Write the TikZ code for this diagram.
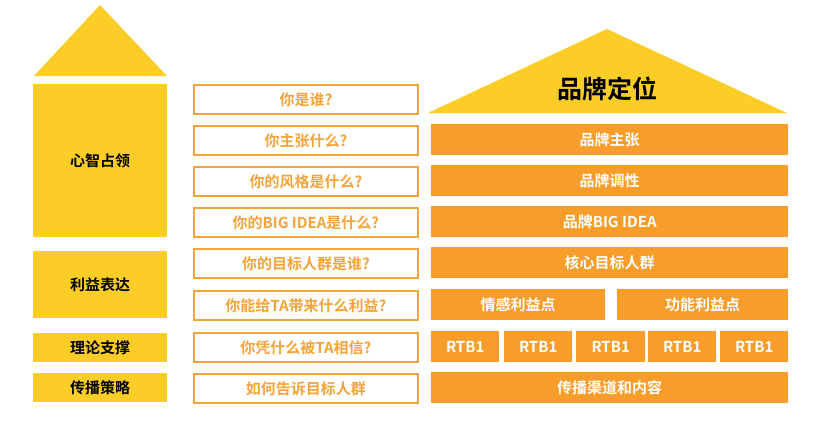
\documentclass[tikz,border=0pt]{standalone}
\usepackage{fontspec}
\setmainfont{Noto Sans CJK SC}[BoldFont={Noto Sans CJK SC Bold}]
\definecolor{hyellow}{HTML}{FCCD26}
\definecolor{horange}{HTML}{F99D2A}
\definecolor{hline}{HTML}{F5A33B}
\tikzset{
  leftbox/.style={fill=hyellow, draw=none, anchor=north west, inner sep=0pt, font=\bfseries\fontsize{15}{15}\selectfont, text=black},
  qbox/.style={draw=hline, line width=1.8pt, fill=white, anchor=north west, inner sep=0pt, font=\bfseries\fontsize{15}{15}\selectfont, text=hline},
  abox/.style={fill=horange, draw=none, anchor=north west, inner sep=0pt, font=\bfseries\fontsize{15}{15}\selectfont, text=white},
}
\begin{document}
\begin{tikzpicture}[x=1pt,y=-1pt]
\useasboundingbox (0,0) rectangle (828,424);
\fill[white] (0,0) rectangle (828,424);
% left roof
\fill[hyellow] (34,76) -- (100,5) -- (167,76) -- cycle;
\node[leftbox, minimum width=134pt, minimum height=153pt] (l1) at (33,84) {心智占领};
\node[leftbox, minimum width=134pt, minimum height=67pt] (l2) at (33,251) {利益表达};
\node[leftbox, minimum width=134pt, minimum height=29pt] (l3) at (33,333) {理论支撑};
\node[leftbox, minimum width=134pt, minimum height=29pt] (l4) at (33,373) {传播策略};
% middle questions
\node[qbox, minimum width=224pt, minimum height=29pt] (q1) at (193,84) {你是谁?};
\node[qbox, minimum width=224pt, minimum height=29pt] (q2) at (193,125) {你主张什么?};
\node[qbox, minimum width=224pt, minimum height=29pt] (q3) at (193,166) {你的风格是什么?};
\node[qbox, minimum width=224pt, minimum height=29pt] (q4) at (193,207) {你的BIG IDEA是什么?};
\node[qbox, minimum width=224pt, minimum height=29pt] (q5) at (193,248) {你的目标人群是谁?};
\node[qbox, minimum width=224pt, minimum height=29pt] (q6) at (193,290) {你能给TA带来什么利益?};
\node[qbox, minimum width=224pt, minimum height=29pt] (q7) at (193,332) {你凭什么被TA相信?};
\node[qbox, minimum width=224pt, minimum height=29pt] (q8) at (193,373) {如何告诉目标人群};
% right roof
\fill[hyellow] (428,113) -- (607,29) -- (787,113) -- cycle;
\node[font=\bfseries\fontsize{25}{25}\selectfont, text=black, inner sep=0pt] (title) at (607,89) {品牌定位};
% right answers
\node[abox, minimum width=357pt, minimum height=31pt] (a2) at (431,124) {品牌主张};
\node[abox, minimum width=357pt, minimum height=31pt] (a3) at (431,165) {品牌调性};
\node[abox, minimum width=357pt, minimum height=31pt] (a4) at (431,206) {品牌BIG IDEA};
\node[abox, minimum width=357pt, minimum height=31pt] (a5) at (431,247) {核心目标人群};
\node[abox, minimum width=174pt, minimum height=31pt] (a6a) at (431,289) {情感利益点};
\node[abox, minimum width=171pt, minimum height=31pt] (a6b) at (617,289) {功能利益点};
\node[abox, minimum width=68pt, minimum height=31pt] (r1) at (431,331) {RTB1};
\node[abox, minimum width=68pt, minimum height=31pt] (r2) at (504,331) {RTB1};
\node[abox, minimum width=69pt, minimum height=31pt] (r3) at (576,331) {RTB1};
\node[abox, minimum width=68pt, minimum height=31pt] (r4) at (648,331) {RTB1};
\node[abox, minimum width=68pt, minimum height=31pt] (r5) at (720,331) {RTB1};
\node[abox, minimum width=357pt, minimum height=31pt] (a8) at (431,372) {传播渠道和内容};
\end{tikzpicture}
\end{document}
